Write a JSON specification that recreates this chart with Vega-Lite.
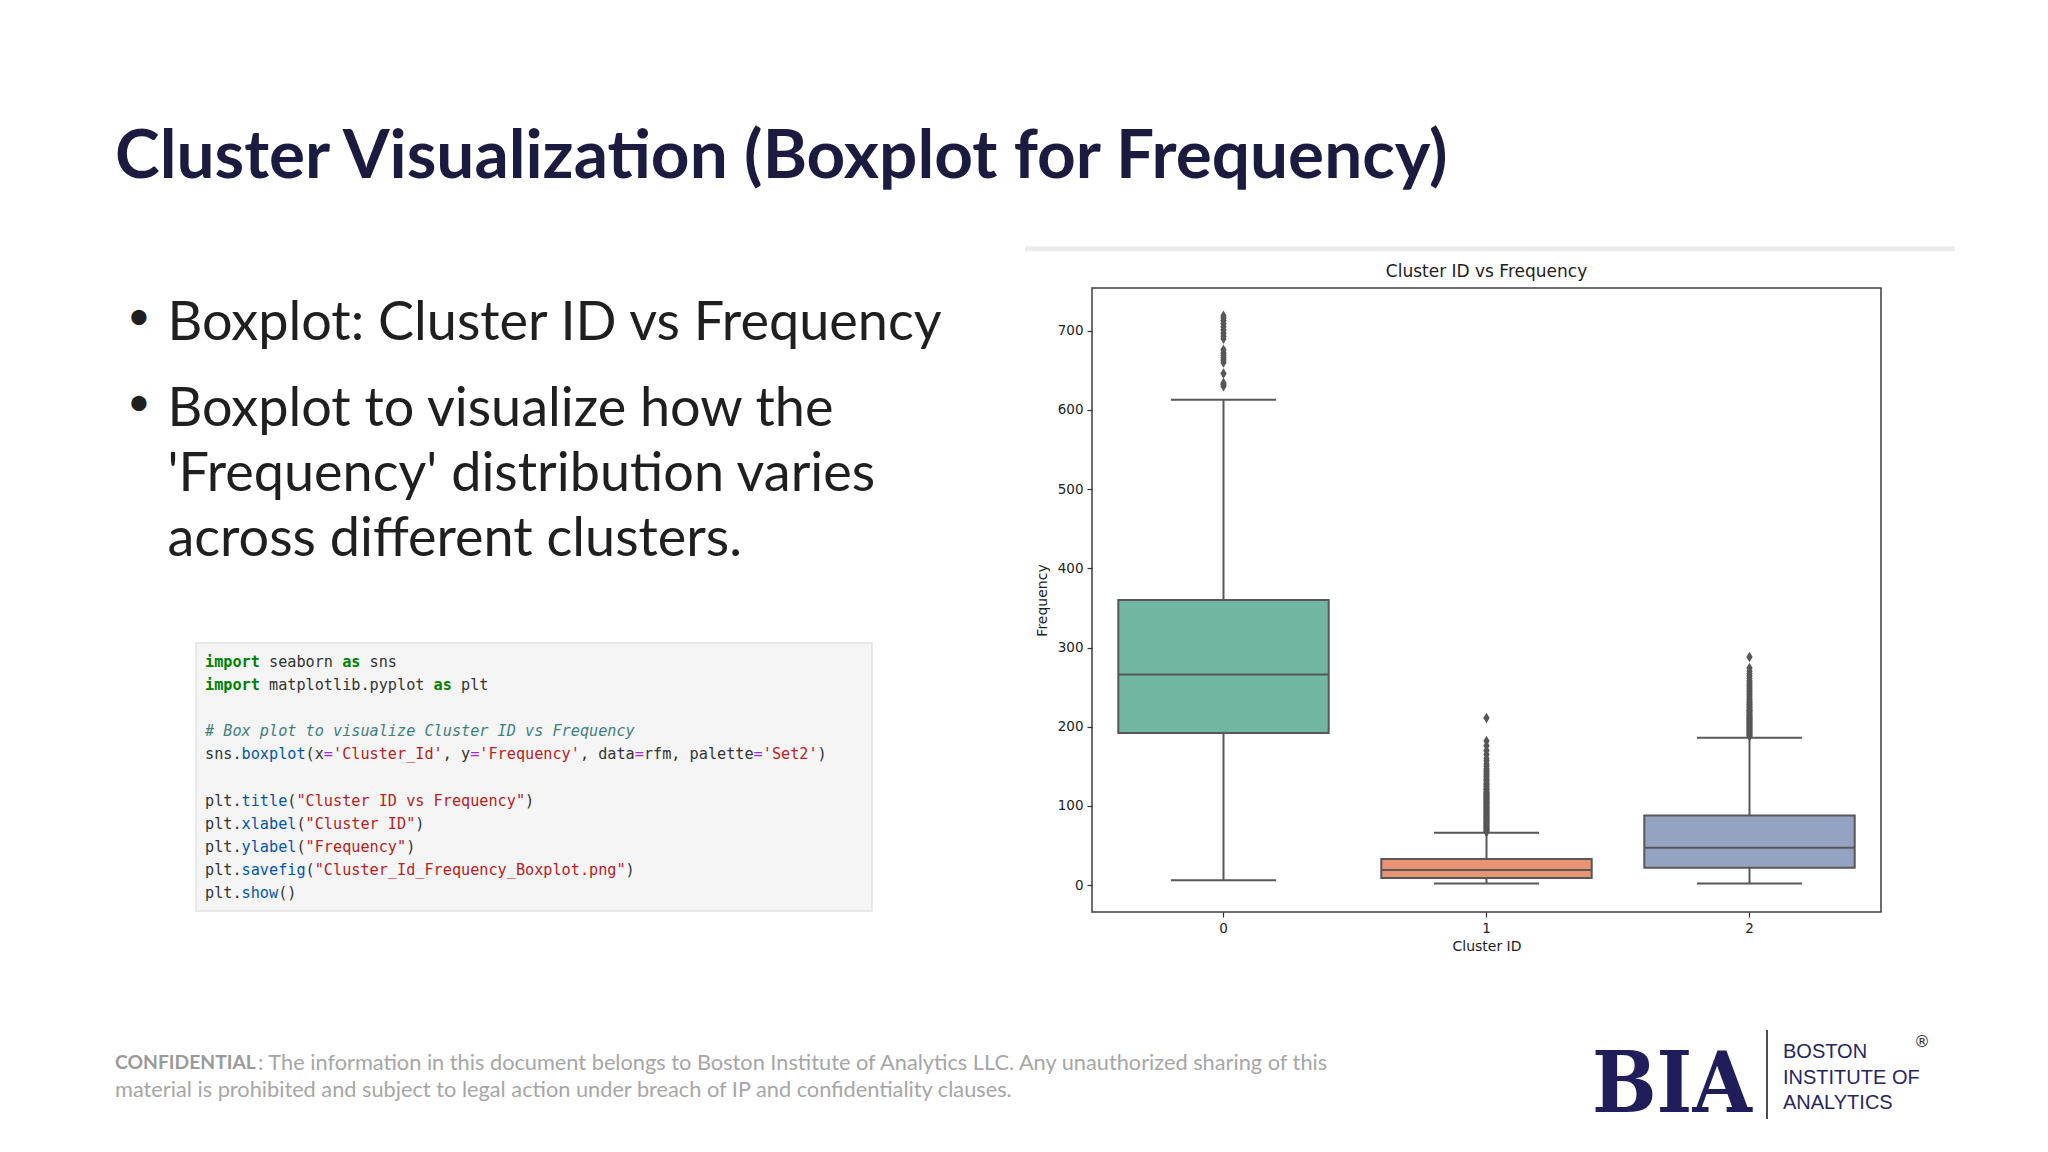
{
  "$schema": "https://vega.github.io/schema/vega-lite/v6.json",
  "background": "white",
  "padding": {"left": 115, "top": 123, "right": 0, "bottom": 15},
  "title": {"text": "Cluster Visualization (Boxplot for Frequency)", "anchor": "start", "frame": "group", "font": "Lato", "fontSize": 67.5, "fontWeight": "bold", "color": "#1b1b40", "offset": 54},
  "config": {
    "view": {"stroke": null},
    "font": "Lato",
    "axis": {"grid": false, "domain": false, "tickSize": 5, "tickColor": "#333333", "tickWidth": 1.2, "labelFont": "DejaVu Sans", "labelFontSize": 13.5, "labelColor": "#222222", "labelPadding": 4, "titleFont": "DejaVu Sans", "titleFontSize": 14, "titleFontWeight": "normal", "titleColor": "#222222"},
    "axisX": {"labelAngle": 0, "titlePadding": 5},
    "axisY": {"titlePadding": 8}
  },
  "datasets": {
    "bullets": [
      {"item": 1, "text": "Boxplot: Cluster ID vs Frequency"},
      {"item": 2, "text": "Boxplot to visualize how the\n'Frequency' distribution varies\nacross different clusters."}
    ],
    "code": [
      {"line": 0, "style": "keyword", "text": "import\u00a0\u00a0\u00a0\u00a0\u00a0\u00a0\u00a0\u00a0\u00a0as"},
      {"line": 0, "style": "plain", "text": "\u200b\u00a0\u00a0\u00a0\u00a0\u00a0\u00a0\u00a0seaborn\u00a0\u00a0\u00a0\u00a0sns"},
      {"line": 1, "style": "keyword", "text": "import\u00a0\u00a0\u00a0\u00a0\u00a0\u00a0\u00a0\u00a0\u00a0\u00a0\u00a0\u00a0\u00a0\u00a0\u00a0\u00a0\u00a0\u00a0\u00a0as"},
      {"line": 1, "style": "plain", "text": "\u200b\u00a0\u00a0\u00a0\u00a0\u00a0\u00a0\u00a0matplotlib.pyplot\u00a0\u00a0\u00a0\u00a0plt"},
      {"line": 3, "style": "comment", "text": "# Box plot to visualize Cluster ID vs Frequency"},
      {"line": 4, "style": "plain", "text": "sns.\u00a0\u00a0\u00a0\u00a0\u00a0\u00a0\u00a0(x\u00a0\u00a0\u00a0\u00a0\u00a0\u00a0\u00a0\u00a0\u00a0\u00a0\u00a0\u00a0\u00a0, y\u00a0\u00a0\u00a0\u00a0\u00a0\u00a0\u00a0\u00a0\u00a0\u00a0\u00a0\u00a0, data\u00a0rfm, palette\u00a0\u00a0\u00a0\u00a0\u00a0\u00a0\u00a0)"},
      {"line": 4, "style": "func", "text": "\u200b\u00a0\u00a0\u00a0\u00a0boxplot"},
      {"line": 4, "style": "op", "text": "\u200b\u00a0\u00a0\u00a0\u00a0\u00a0\u00a0\u00a0\u00a0\u00a0\u00a0\u00a0\u00a0\u00a0=\u00a0\u00a0\u00a0\u00a0\u00a0\u00a0\u00a0\u00a0\u00a0\u00a0\u00a0\u00a0\u00a0\u00a0\u00a0=\u00a0\u00a0\u00a0\u00a0\u00a0\u00a0\u00a0\u00a0\u00a0\u00a0\u00a0\u00a0\u00a0\u00a0\u00a0\u00a0\u00a0=\u00a0\u00a0\u00a0\u00a0\u00a0\u00a0\u00a0\u00a0\u00a0\u00a0\u00a0\u00a0="},
      {"line": 4, "style": "str", "text": "\u200b\u00a0\u00a0\u00a0\u00a0\u00a0\u00a0\u00a0\u00a0\u00a0\u00a0\u00a0\u00a0\u00a0\u00a0'Cluster_Id'\u00a0\u00a0\u00a0\u00a0'Frequency'\u00a0\u00a0\u00a0\u00a0\u00a0\u00a0\u00a0\u00a0\u00a0\u00a0\u00a0\u00a0\u00a0\u00a0\u00a0\u00a0\u00a0\u00a0\u00a0\u00a0'Set2'"},
      {"line": 6, "style": "plain", "text": "plt.\u00a0\u00a0\u00a0\u00a0\u00a0(\u00a0\u00a0\u00a0\u00a0\u00a0\u00a0\u00a0\u00a0\u00a0\u00a0\u00a0\u00a0\u00a0\u00a0\u00a0\u00a0\u00a0\u00a0\u00a0\u00a0\u00a0\u00a0\u00a0\u00a0\u00a0)"},
      {"line": 6, "style": "func", "text": "\u200b\u00a0\u00a0\u00a0\u00a0title"},
      {"line": 6, "style": "str", "text": "\u200b\u00a0\u00a0\u00a0\u00a0\u00a0\u00a0\u00a0\u00a0\u00a0\u00a0\"Cluster ID vs Frequency\""},
      {"line": 7, "style": "plain", "text": "plt.\u00a0\u00a0\u00a0\u00a0\u00a0\u00a0(\u00a0\u00a0\u00a0\u00a0\u00a0\u00a0\u00a0\u00a0\u00a0\u00a0\u00a0\u00a0)"},
      {"line": 7, "style": "func", "text": "\u200b\u00a0\u00a0\u00a0\u00a0xlabel"},
      {"line": 7, "style": "str", "text": "\u200b\u00a0\u00a0\u00a0\u00a0\u00a0\u00a0\u00a0\u00a0\u00a0\u00a0\u00a0\"Cluster ID\""},
      {"line": 8, "style": "plain", "text": "plt.\u00a0\u00a0\u00a0\u00a0\u00a0\u00a0(\u00a0\u00a0\u00a0\u00a0\u00a0\u00a0\u00a0\u00a0\u00a0\u00a0\u00a0)"},
      {"line": 8, "style": "func", "text": "\u200b\u00a0\u00a0\u00a0\u00a0ylabel"},
      {"line": 8, "style": "str", "text": "\u200b\u00a0\u00a0\u00a0\u00a0\u00a0\u00a0\u00a0\u00a0\u00a0\u00a0\u00a0\"Frequency\""},
      {"line": 9, "style": "plain", "text": "plt.\u00a0\u00a0\u00a0\u00a0\u00a0\u00a0\u00a0(\u00a0\u00a0\u00a0\u00a0\u00a0\u00a0\u00a0\u00a0\u00a0\u00a0\u00a0\u00a0\u00a0\u00a0\u00a0\u00a0\u00a0\u00a0\u00a0\u00a0\u00a0\u00a0\u00a0\u00a0\u00a0\u00a0\u00a0\u00a0\u00a0\u00a0\u00a0\u00a0\u00a0\u00a0)"},
      {"line": 9, "style": "func", "text": "\u200b\u00a0\u00a0\u00a0\u00a0savefig"},
      {"line": 9, "style": "str", "text": "\u200b\u00a0\u00a0\u00a0\u00a0\u00a0\u00a0\u00a0\u00a0\u00a0\u00a0\u00a0\u00a0\"Cluster_Id_Frequency_Boxplot.png\""},
      {"line": 10, "style": "plain", "text": "plt.\u00a0\u00a0\u00a0\u00a0()"},
      {"line": 10, "style": "func", "text": "\u200b\u00a0\u00a0\u00a0\u00a0show"}
    ],
    "stats": [
      {"cluster": "0", "lower": 6, "q1": 192, "median": 266, "q3": 360, "upper": 613},
      {"cluster": "1", "lower": 2, "q1": 9, "median": 19, "q3": 33, "upper": 66},
      {"cluster": "2", "lower": 2, "q1": 22, "median": 47, "q3": 88, "upper": 186}
    ],
    "outliers": [
      {"cluster": "0", "value": 630}, {"cluster": "0", "value": 632}, {"cluster": "0", "value": 634}, {"cluster": "0", "value": 646},
      {"cluster": "0", "value": 660}, {"cluster": "0", "value": 663}, {"cluster": "0", "value": 666}, {"cluster": "0", "value": 669},
      {"cluster": "0", "value": 672}, {"cluster": "0", "value": 676}, {"cluster": "0", "value": 690}, {"cluster": "0", "value": 693},
      {"cluster": "0", "value": 697}, {"cluster": "0", "value": 701}, {"cluster": "0", "value": 705}, {"cluster": "0", "value": 709},
      {"cluster": "0", "value": 713}, {"cluster": "0", "value": 716}, {"cluster": "0", "value": 719},
      {"cluster": "1", "value": 67}, {"cluster": "1", "value": 68}, {"cluster": "1", "value": 69}, {"cluster": "1", "value": 70},
      {"cluster": "1", "value": 71}, {"cluster": "1", "value": 72}, {"cluster": "1", "value": 73}, {"cluster": "1", "value": 74},
      {"cluster": "1", "value": 75}, {"cluster": "1", "value": 76}, {"cluster": "1", "value": 77}, {"cluster": "1", "value": 78},
      {"cluster": "1", "value": 79}, {"cluster": "1", "value": 80}, {"cluster": "1", "value": 81}, {"cluster": "1", "value": 82},
      {"cluster": "1", "value": 83}, {"cluster": "1", "value": 84}, {"cluster": "1", "value": 85}, {"cluster": "1", "value": 86},
      {"cluster": "1", "value": 87}, {"cluster": "1", "value": 88}, {"cluster": "1", "value": 89}, {"cluster": "1", "value": 90},
      {"cluster": "1", "value": 91}, {"cluster": "1", "value": 92}, {"cluster": "1", "value": 93}, {"cluster": "1", "value": 94},
      {"cluster": "1", "value": 95}, {"cluster": "1", "value": 96}, {"cluster": "1", "value": 97}, {"cluster": "1", "value": 98},
      {"cluster": "1", "value": 99}, {"cluster": "1", "value": 100}, {"cluster": "1", "value": 101}, {"cluster": "1", "value": 102},
      {"cluster": "1", "value": 103}, {"cluster": "1", "value": 104}, {"cluster": "1", "value": 105}, {"cluster": "1", "value": 106},
      {"cluster": "1", "value": 107}, {"cluster": "1", "value": 108}, {"cluster": "1", "value": 109}, {"cluster": "1", "value": 110},
      {"cluster": "1", "value": 111}, {"cluster": "1", "value": 112}, {"cluster": "1", "value": 113}, {"cluster": "1", "value": 114},
      {"cluster": "1", "value": 115}, {"cluster": "1", "value": 116}, {"cluster": "1", "value": 117}, {"cluster": "1", "value": 118},
      {"cluster": "1", "value": 120}, {"cluster": "1", "value": 121}, {"cluster": "1", "value": 122}, {"cluster": "1", "value": 124},
      {"cluster": "1", "value": 125}, {"cluster": "1", "value": 127}, {"cluster": "1", "value": 128}, {"cluster": "1", "value": 130},
      {"cluster": "1", "value": 132}, {"cluster": "1", "value": 133}, {"cluster": "1", "value": 135}, {"cluster": "1", "value": 137},
      {"cluster": "1", "value": 139}, {"cluster": "1", "value": 141}, {"cluster": "1", "value": 143}, {"cluster": "1", "value": 145},
      {"cluster": "1", "value": 147}, {"cluster": "1", "value": 150}, {"cluster": "1", "value": 153}, {"cluster": "1", "value": 157},
      {"cluster": "1", "value": 160}, {"cluster": "1", "value": 165}, {"cluster": "1", "value": 170}, {"cluster": "1", "value": 176},
      {"cluster": "1", "value": 182}, {"cluster": "1", "value": 211},
      {"cluster": "2", "value": 188}, {"cluster": "2", "value": 189}, {"cluster": "2", "value": 190}, {"cluster": "2", "value": 191},
      {"cluster": "2", "value": 192}, {"cluster": "2", "value": 193}, {"cluster": "2", "value": 194}, {"cluster": "2", "value": 195},
      {"cluster": "2", "value": 196}, {"cluster": "2", "value": 197}, {"cluster": "2", "value": 198}, {"cluster": "2", "value": 199},
      {"cluster": "2", "value": 200}, {"cluster": "2", "value": 201}, {"cluster": "2", "value": 202}, {"cluster": "2", "value": 203},
      {"cluster": "2", "value": 204}, {"cluster": "2", "value": 205}, {"cluster": "2", "value": 206}, {"cluster": "2", "value": 207},
      {"cluster": "2", "value": 208}, {"cluster": "2", "value": 209}, {"cluster": "2", "value": 210}, {"cluster": "2", "value": 211},
      {"cluster": "2", "value": 212}, {"cluster": "2", "value": 213}, {"cluster": "2", "value": 214}, {"cluster": "2", "value": 215},
      {"cluster": "2", "value": 216}, {"cluster": "2", "value": 218}, {"cluster": "2", "value": 219}, {"cluster": "2", "value": 220},
      {"cluster": "2", "value": 221}, {"cluster": "2", "value": 222}, {"cluster": "2", "value": 224}, {"cluster": "2", "value": 225},
      {"cluster": "2", "value": 226}, {"cluster": "2", "value": 228}, {"cluster": "2", "value": 229}, {"cluster": "2", "value": 231},
      {"cluster": "2", "value": 232}, {"cluster": "2", "value": 234}, {"cluster": "2", "value": 236}, {"cluster": "2", "value": 238},
      {"cluster": "2", "value": 240}, {"cluster": "2", "value": 242}, {"cluster": "2", "value": 244}, {"cluster": "2", "value": 246},
      {"cluster": "2", "value": 248}, {"cluster": "2", "value": 250}, {"cluster": "2", "value": 252}, {"cluster": "2", "value": 254},
      {"cluster": "2", "value": 256}, {"cluster": "2", "value": 258}, {"cluster": "2", "value": 261}, {"cluster": "2", "value": 264},
      {"cluster": "2", "value": 267}, {"cluster": "2", "value": 270}, {"cluster": "2", "value": 274}, {"cluster": "2", "value": 288}
    ],
    "footer": [
      {"line": 1, "part": "label", "text": "CONFIDENTIAL"},
      {"line": 1, "part": "body", "text": ": The information in this document belongs to Boston Institute of Analytics LLC. Any unauthorized sharing of this"},
      {"line": 2, "part": "body", "text": "material is prohibited and subject to legal action under breach of IP and confidentiality clauses."}
    ],
    "logo": [
      {"part": "mark", "line": 0, "text": "BIA"},
      {"part": "name", "line": 1, "text": "BOSTON"},
      {"part": "name", "line": 2, "text": "INSTITUTE OF"},
      {"part": "name", "line": 3, "text": "ANALYTICS"},
      {"part": "reg", "line": 0, "text": "®"}
    ]
  },
  "columns": 2,
  "align": "none",
  "bounds": "flush",
  "spacing": {"row": 118, "column": 88},
  "concat": [
    {
      "width": 889, "height": 624,
      "resolve": {"scale": {"x": "independent", "y": "independent"}},
      "layer": [
        {
          "data": {"values": [{"edge": "screenshot top border"}]},
          "mark": {"type": "rule", "color": "#ececec", "strokeWidth": 5},
          "encoding": {
            "x": {"datum": 0, "type": "quantitative", "scale": {"domain": [0, 1], "range": [910, 1840]}, "axis": null},
            "x2": {"datum": 1},
            "y": {"datum": 0, "type": "quantitative", "scale": {"domain": [0, 1], "range": [-39.3, -38.3]}, "axis": null}
          }
        },
        {
          "data": {"name": "bullets"},
          "mark": {"type": "text", "text": "•", "font": "Lato", "fontSize": 41, "color": "#1f1f1f", "align": "center", "baseline": "middle"},
          "encoding": {
            "x": {"datum": 0, "type": "quantitative", "scale": {"domain": [0, 1], "range": [24, 25]}, "axis": null},
            "y": {"field": "item", "type": "quantitative", "scale": {"domain": [1, 2], "range": [30, 116]}, "axis": null}
          }
        },
        {
          "data": {"name": "bullets"},
          "mark": {"type": "text", "font": "Lato", "fontSize": 54, "color": "#1f1f1f", "align": "left", "baseline": "alphabetic", "lineBreak": "\n", "lineHeight": 65},
          "encoding": {
            "x": {"datum": 0, "type": "quantitative", "scale": {"domain": [0, 1], "range": [52.4, 53.4]}, "axis": null},
            "y": {"field": "item", "type": "quantitative", "scale": {"domain": [1, 2], "range": [51.7, 137.7]}, "axis": null},
            "text": {"field": "text"}
          }
        },
        {
          "data": {"values": [{"block": "code cell"}]},
          "mark": {"type": "rect", "fill": "#f5f5f5", "stroke": "#e2e2e2", "strokeWidth": 1.5},
          "encoding": {
            "x": {"datum": 0, "type": "quantitative", "scale": {"domain": [0, 1], "range": [81, 757]}, "axis": null},
            "x2": {"datum": 1},
            "y": {"datum": 0, "type": "quantitative", "scale": {"domain": [0, 1], "range": [355, 623]}, "axis": null},
            "y2": {"datum": 1}
          }
        },
        {
          "data": {"name": "code"},
          "encoding": {
            "x": {"datum": 0, "type": "quantitative", "scale": {"domain": [0, 1], "range": [90, 91]}, "axis": null},
            "y": {"field": "line", "type": "quantitative", "scale": {"domain": [0, 10], "range": [374, 605]}, "axis": null},
            "text": {"field": "text"}
          },
          "layer": [
            {"transform": [{"filter": "datum.style === 'plain'"}], "mark": {"type": "text", "font": "DejaVu Sans Mono", "fontSize": 15.2, "color": "#333333", "align": "left", "baseline": "middle"}},
            {"transform": [{"filter": "datum.style === 'func'"}], "mark": {"type": "text", "font": "DejaVu Sans Mono", "fontSize": 15.2, "color": "#0055aa", "align": "left", "baseline": "middle"}},
            {"transform": [{"filter": "datum.style === 'op'"}], "mark": {"type": "text", "font": "DejaVu Sans Mono", "fontSize": 15.2, "color": "#aa22ff", "align": "left", "baseline": "middle"}},
            {"transform": [{"filter": "datum.style === 'str'"}], "mark": {"type": "text", "font": "DejaVu Sans Mono", "fontSize": 15.2, "color": "#ba2121", "align": "left", "baseline": "middle"}},
            {"transform": [{"filter": "datum.style === 'keyword'"}], "mark": {"type": "text", "font": "DejaVu Sans Mono", "fontSize": 15.2, "fontWeight": "bold", "color": "#008000", "align": "left", "baseline": "middle"}},
            {"transform": [{"filter": "datum.style === 'comment'"}], "mark": {"type": "text", "font": "DejaVu Sans Mono", "fontSize": 15.2, "fontStyle": "italic", "color": "#408080", "align": "left", "baseline": "middle"}}
          ]
        }
      ]
    },
    {
      "width": 789, "height": 624,
      "view": {"stroke": "#3c3c3c", "strokeWidth": 1.5},
      "title": {"text": "Cluster ID vs Frequency", "font": "DejaVu Sans", "fontSize": 17, "fontWeight": "normal", "color": "#222222", "offset": 7, "anchor": "middle"},
      "encoding": {
        "x": {"field": "cluster", "type": "nominal", "title": "Cluster ID", "scale": {"domain": ["0", "1", "2"], "paddingInner": 0, "paddingOuter": 0}}
      },
      "layer": [
        {
          "data": {"name": "stats"},
          "mark": {"type": "rule", "color": "#575757", "strokeWidth": 2},
          "encoding": {
            "y": {"field": "lower", "type": "quantitative", "title": "Frequency", "scale": {"domain": [-34, 754], "nice": false, "zero": false}, "axis": {"values": [0, 100, 200, 300, 400, 500, 600, 700]}},
            "y2": {"field": "q1"}
          }
        },
        {
          "data": {"name": "stats"},
          "mark": {"type": "rule", "color": "#575757", "strokeWidth": 2},
          "encoding": {
            "y": {"field": "q3", "type": "quantitative", "title": "Frequency", "scale": {"domain": [-34, 754], "nice": false, "zero": false}},
            "y2": {"field": "upper"}
          }
        },
        {
          "data": {"name": "stats"},
          "mark": {"type": "bar", "width": {"band": 0.8}, "stroke": "#575757", "strokeWidth": 2, "opacity": 1},
          "encoding": {
            "y": {"field": "q1", "type": "quantitative", "title": "Frequency", "scale": {"domain": [-34, 754], "nice": false, "zero": false}},
            "y2": {"field": "q3"},
            "color": {"field": "cluster", "type": "nominal", "scale": {"domain": ["0", "1", "2"], "range": ["#71b6a1", "#e99575", "#95a3c3"]}, "legend": null}
          }
        },
        {
          "data": {"name": "stats"},
          "mark": {"type": "tick", "size": 210.4, "thickness": 2, "color": "#575757", "opacity": 1},
          "encoding": {
            "y": {"field": "median", "type": "quantitative", "title": "Frequency", "scale": {"domain": [-34, 754], "nice": false, "zero": false}}
          }
        },
        {
          "data": {"name": "stats"},
          "mark": {"type": "tick", "size": 105.2, "thickness": 2, "color": "#575757", "opacity": 1},
          "encoding": {
            "y": {"field": "lower", "type": "quantitative", "title": "Frequency", "scale": {"domain": [-34, 754], "nice": false, "zero": false}}
          }
        },
        {
          "data": {"name": "stats"},
          "mark": {"type": "tick", "size": 105.2, "thickness": 2, "color": "#575757", "opacity": 1},
          "encoding": {
            "y": {"field": "upper", "type": "quantitative", "title": "Frequency", "scale": {"domain": [-34, 754], "nice": false, "zero": false}}
          }
        },
        {
          "data": {"name": "outliers"},
          "mark": {"type": "point", "shape": "M0,-1L0.6,0L0,1L-0.6,0Z", "size": 110, "filled": true, "color": "#575757", "opacity": 1},
          "encoding": {
            "y": {"field": "value", "type": "quantitative", "title": "Frequency", "scale": {"domain": [-34, 754], "nice": false, "zero": false}}
          }
        }
      ]
    },
    {
      "width": 889, "height": 89,
      "data": {"name": "footer"},
      "encoding": {
        "x": {"datum": 0, "type": "quantitative", "scale": {"domain": [0, 1], "range": [0, 143]}, "axis": null},
        "y": {"field": "line", "type": "quantitative", "scale": {"domain": [1, 2], "range": [32.5, 60]}, "axis": null},
        "text": {"field": "text"}
      },
      "layer": [
        {
          "transform": [{"filter": "datum.part === 'label'"}],
          "mark": {"type": "text", "font": "Lato", "fontSize": 19.3, "fontWeight": "bold", "color": "#9a9a9a", "align": "left", "baseline": "middle"}
        },
        {
          "transform": [{"filter": "datum.part === 'body' && datum.line === 1"}],
          "mark": {"type": "text", "font": "Lato", "fontSize": 21.75, "color": "#a6a6a6", "align": "left", "baseline": "middle"},
          "encoding": {"x": {"datum": 1, "type": "quantitative"}}
        },
        {
          "transform": [{"filter": "datum.line === 2"}],
          "mark": {"type": "text", "font": "Lato", "fontSize": 21.75, "color": "#a6a6a6", "align": "left", "baseline": "middle"}
        }
      ]
    },
    {
      "width": 789, "height": 89,
      "resolve": {"scale": {"x": "independent", "y": "independent"}},
      "data": {"name": "logo"},
      "layer": [
        {
          "transform": [{"filter": "datum.part === 'mark'"}],
          "mark": {"type": "text", "font": "DejaVu Serif Condensed, DejaVu Serif", "fontWeight": "bold", "fontSize": 85, "color": "#1f1e5a", "align": "left", "baseline": "alphabetic"},
          "encoding": {
            "x": {"datum": 0, "type": "quantitative", "scale": {"domain": [0, 1], "range": [500, 501]}, "axis": null},
            "y": {"datum": 0, "type": "quantitative", "scale": {"domain": [0, 1], "range": [82, 83]}, "axis": null},
            "text": {"field": "text"}
          }
        },
        {
          "mark": {"type": "rule", "color": "#4d4d4d", "strokeWidth": 2},
          "transform": [{"filter": "datum.part === 'mark'"}],
          "encoding": {
            "x": {"datum": 0, "type": "quantitative", "scale": {"domain": [0, 1], "range": [675, 676]}, "axis": null}
          }
        },
        {
          "transform": [{"filter": "datum.part === 'name'"}],
          "mark": {"type": "text", "font": "Liberation Sans", "fontSize": 20, "color": "#27265f", "align": "left", "baseline": "middle"},
          "encoding": {
            "x": {"datum": 0, "type": "quantitative", "scale": {"domain": [0, 1], "range": [691, 692]}, "axis": null},
            "y": {"field": "line", "type": "quantitative", "scale": {"domain": [1, 3], "range": [22, 73]}, "axis": null},
            "text": {"field": "text"}
          }
        },
        {
          "transform": [{"filter": "datum.part === 'reg'"}],
          "mark": {"type": "text", "font": "DejaVu Sans", "fontSize": 16, "color": "#333333", "align": "center", "baseline": "middle"},
          "encoding": {
            "x": {"datum": 0, "type": "quantitative", "scale": {"domain": [0, 1], "range": [830, 831]}, "axis": null},
            "y": {"datum": 0, "type": "quantitative", "scale": {"domain": [0, 1], "range": [12, 13]}, "axis": null},
            "text": {"field": "text"}
          }
        }
      ]
    }
  ]
}
